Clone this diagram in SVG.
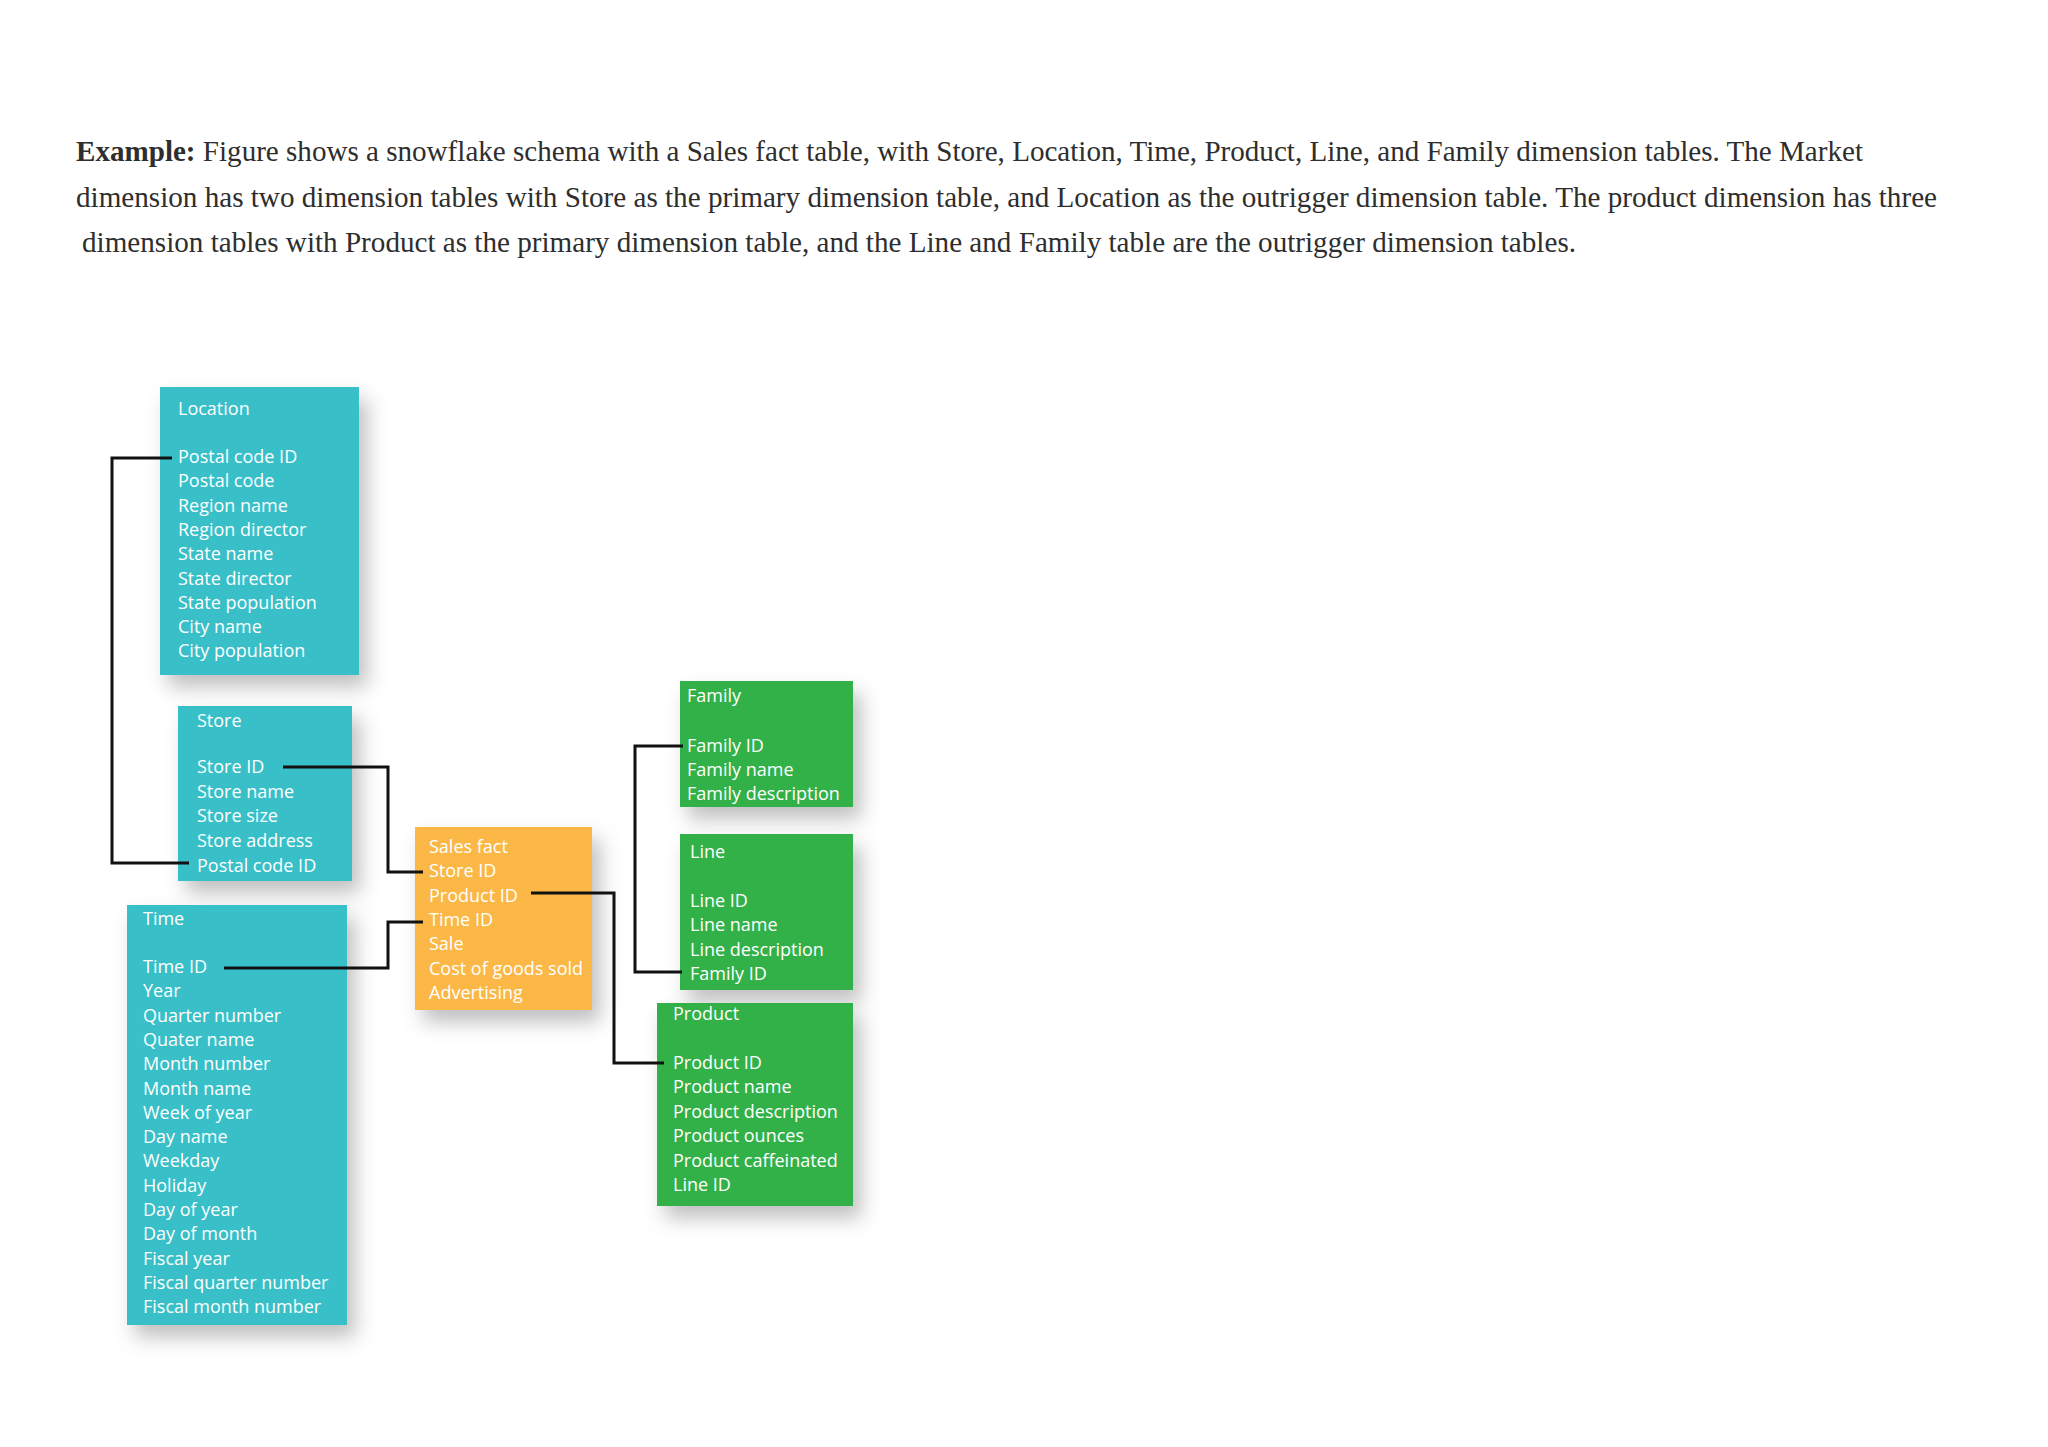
<svg xmlns="http://www.w3.org/2000/svg" width="2048" height="1447" viewBox="0 0 2048 1447">
<defs>
<filter id="sh" x="-20%" y="-20%" width="150%" height="150%">
<feDropShadow dx="8" dy="12" stdDeviation="10" flood-color="#000" flood-opacity="0.25"/>
</filter>
<style>
.p{font-family:"Liberation Serif","Times New Roman",serif;font-size:29px;fill:#2e2e2e}
.b{font-weight:bold}
.t{font-family:"Open Sans","Noto Sans",sans-serif;font-size:18px;fill:#fff}
.teal{fill:#37bfc8}
.orange{fill:#fbb847}
.green{fill:#33b14a}
.c{fill:none;stroke:#111;stroke-width:3}
</style>
</defs>
<rect width="2048" height="1447" fill="#fff"/>
<g id="paragraph">
<text class="p" x="76" y="161" textLength="1787" lengthAdjust="spacingAndGlyphs"><tspan class="b">Example:</tspan> Figure shows a snowflake schema with a Sales fact table, with Store, Location, Time, Product, Line, and Family dimension tables. The Market</text>
<text class="p" x="76" y="207" textLength="1861" lengthAdjust="spacingAndGlyphs">dimension has two dimension tables with Store as the primary dimension table, and Location as the outrigger dimension table. The product dimension has three</text>
<text class="p" x="82" y="252" textLength="1494" lengthAdjust="spacingAndGlyphs">dimension tables with Product as the primary dimension table, and the Line and Family table are the outrigger dimension tables.</text>
</g>
<g id="location">
<rect class="teal" x="160" y="387" width="199" height="288" filter="url(#sh)"/>
<text class="t" x="178" y="415">Location</text>
<text class="t" x="178" y="463">Postal code ID</text>
<text class="t" x="178" y="487.3">Postal code</text>
<text class="t" x="178" y="511.6">Region name</text>
<text class="t" x="178" y="535.9">Region director</text>
<text class="t" x="178" y="560.2">State name</text>
<text class="t" x="178" y="584.5">State director</text>
<text class="t" x="178" y="608.8">State population</text>
<text class="t" x="178" y="633.1">City name</text>
<text class="t" x="178" y="657.4">City population</text>
</g>
<g id="store">
<rect class="teal" x="178" y="706" width="174" height="175" filter="url(#sh)"/>
<text class="t" x="197" y="727">Store</text>
<text class="t" x="197" y="773">Store ID</text>
<text class="t" x="197" y="797.7">Store name</text>
<text class="t" x="197" y="822.4">Store size</text>
<text class="t" x="197" y="847.1">Store address</text>
<text class="t" x="197" y="871.8">Postal code ID</text>
</g>
<g id="time">
<rect class="teal" x="127" y="905" width="220" height="420" filter="url(#sh)"/>
<text class="t" x="143" y="925">Time</text>
<text class="t" x="143" y="973">Time ID</text>
<text class="t" x="143" y="997.3">Year</text>
<text class="t" x="143" y="1021.6">Quarter number</text>
<text class="t" x="143" y="1045.9">Quater name</text>
<text class="t" x="143" y="1070.2">Month number</text>
<text class="t" x="143" y="1094.5">Month name</text>
<text class="t" x="143" y="1118.8">Week of year</text>
<text class="t" x="143" y="1143.1">Day name</text>
<text class="t" x="143" y="1167.4">Weekday</text>
<text class="t" x="143" y="1191.7">Holiday</text>
<text class="t" x="143" y="1216">Day of year</text>
<text class="t" x="143" y="1240.3">Day of month</text>
<text class="t" x="143" y="1264.6">Fiscal year</text>
<text class="t" x="143" y="1288.9">Fiscal quarter number</text>
<text class="t" x="143" y="1313.2">Fiscal month number</text>
</g>
<g id="sales-fact">
<rect class="orange" x="415" y="827" width="177" height="183" filter="url(#sh)"/>
<text class="t" x="429" y="853">Sales fact</text>
<text class="t" x="429" y="877.3">Store ID</text>
<text class="t" x="429" y="901.6">Product ID</text>
<text class="t" x="429" y="925.9">Time ID</text>
<text class="t" x="429" y="950.2">Sale</text>
<text class="t" x="429" y="974.5">Cost of goods sold</text>
<text class="t" x="429" y="998.8">Advertising</text>
</g>
<g id="family">
<rect class="green" x="680" y="681" width="173" height="126" filter="url(#sh)"/>
<text class="t" x="687" y="702">Family</text>
<text class="t" x="687" y="752">Family ID</text>
<text class="t" x="687" y="776">Family name</text>
<text class="t" x="687" y="800">Family description</text>
</g>
<g id="line">
<rect class="green" x="680" y="834" width="173" height="156" filter="url(#sh)"/>
<text class="t" x="690" y="858">Line</text>
<text class="t" x="690" y="907">Line ID</text>
<text class="t" x="690" y="931.4">Line name</text>
<text class="t" x="690" y="955.8">Line description</text>
<text class="t" x="690" y="980.2">Family ID</text>
</g>
<g id="product">
<rect class="green" x="657" y="1003" width="196" height="203" filter="url(#sh)"/>
<text class="t" x="673" y="1020">Product</text>
<text class="t" x="673" y="1069">Product ID</text>
<text class="t" x="673" y="1093.4">Product name</text>
<text class="t" x="673" y="1117.8">Product description</text>
<text class="t" x="673" y="1142.2">Product ounces</text>
<text class="t" x="673" y="1166.6">Product caffeinated</text>
<text class="t" x="673" y="1191">Line ID</text>
</g>
<g id="connectors">
<path class="c" d="M172 458 H112 V863 H189"/>
<path class="c" d="M283 767 H388 V872 H423"/>
<path class="c" d="M224 968 H388 V922 H423"/>
<path class="c" d="M531 893 H614 V1063 H664"/>
<path class="c" d="M683 746 H635 V972 H682"/>
</g>
</svg>
